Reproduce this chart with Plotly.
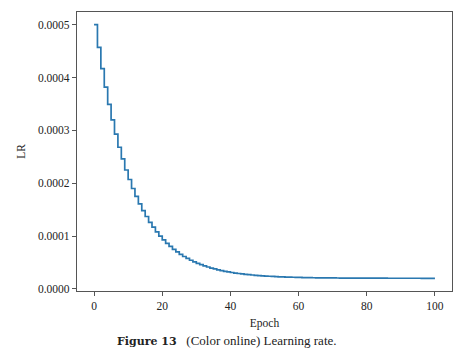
import plotly.graph_objects as go

epochs = list(range(0, 101))
lr_values = [
    0.000500, 0.000457, 0.000417, 0.000382, 0.000349, 0.000320, 0.000293, 0.000268, 0.000246, 0.000225,
    0.000207, 0.000190, 0.000175, 0.000161, 0.000148, 0.000137, 0.000126, 0.000117, 0.000108, 0.000100,
    0.0000928, 0.0000862, 0.0000803, 0.0000749, 0.0000699, 0.0000654, 0.0000613, 0.0000576, 0.0000542, 0.0000511,
    0.0000483, 0.0000458, 0.0000435, 0.0000414, 0.0000394, 0.0000377, 0.0000361, 0.0000346, 0.0000333, 0.0000321,
    0.0000310, 0.0000300, 0.0000291, 0.0000283, 0.0000276, 0.0000269, 0.0000263, 0.0000257, 0.0000252, 0.0000247,
    0.0000243, 0.0000239, 0.0000236, 0.0000232, 0.0000229, 0.0000227, 0.0000224, 0.0000222, 0.0000220, 0.0000218,
    0.0000217, 0.0000215, 0.0000214, 0.0000213, 0.0000211, 0.0000210, 0.0000210, 0.0000209, 0.0000208, 0.0000207,
    0.0000207, 0.0000206, 0.0000205, 0.0000205, 0.0000204, 0.0000204, 0.0000204, 0.0000203, 0.0000203, 0.0000203,
    0.0000203, 0.0000202, 0.0000202, 0.0000202, 0.0000202, 0.0000202, 0.0000201, 0.0000201, 0.0000201, 0.0000201,
    0.0000201, 0.0000201, 0.0000201, 0.0000201, 0.0000201, 0.0000201, 0.0000200, 0.0000200, 0.0000200, 0.0000200,
    0.0000200,
]
x_ticks = [0, 20, 40, 60, 80, 100]
y_ticks = [0.0, 0.0001, 0.0002, 0.0003, 0.0004, 0.0005]
x_label = "Epoch"
y_label = "LR"
caption = ('<span style="font-family:DejaVu Serif;font-weight:bold;font-size:11px">Figure 13</span>'
           '&nbsp;&nbsp;&nbsp;(Color online) Learning rate.')

FONT = "Liberation Serif, DejaVu Serif, serif"

fig = go.Figure()
fig.add_trace(go.Scatter(
    x=epochs, y=lr_values, mode="lines", line_shape="hv",
    line=dict(color="#2a78b0", width=1.7), showlegend=False,
))

axis_common = dict(
    showline=True, linecolor="#555555", linewidth=1.3, mirror=True,
    ticks="outside", ticklen=4, tickwidth=1, tickcolor="#555555",
    showgrid=False, zeroline=False,
    tickfont=dict(family=FONT, size=11.5, color="#222222"),
)

fig.update_xaxes(
    range=[-5, 105], tickvals=x_ticks, ticktext=[str(v) for v in x_ticks],
    title=dict(text=x_label, font=dict(family=FONT, size=11.5, color="#222222"), standoff=7),
    **axis_common,
)
fig.update_yaxes(
    range=[-0.000004, 0.000524], tickvals=y_ticks, tickformat=".4f",
    title=dict(text=y_label, font=dict(family=FONT, size=11.5, color="#222222"), standoff=9),
    **axis_common,
)

fig.add_annotation(
    text=caption, xref="paper", yref="paper", x=0.40, y=-0.176,
    xanchor="center", yanchor="middle", showarrow=False,
    font=dict(family=FONT, size=13, color="#222222"),
)

fig.update_layout(
    width=466, height=353,
    margin=dict(l=69, r=22, t=4, b=70, autoexpand=False),
    paper_bgcolor="white", plot_bgcolor="white",
)

fig.write_html("out.html")
